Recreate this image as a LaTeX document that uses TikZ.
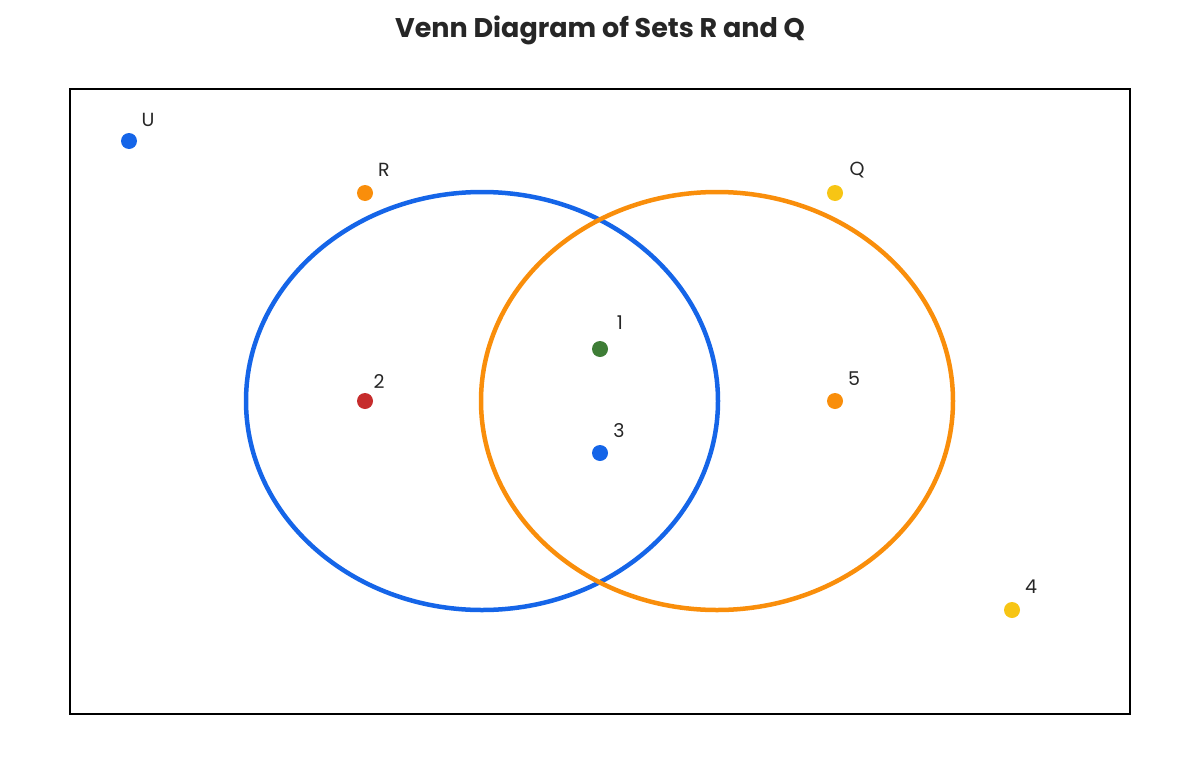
\documentclass[tikz,border=0pt]{standalone}
\usepackage{fontspec}
\setmainfont{Poppins}
\definecolor{cblue}{HTML}{1565E8}
\definecolor{corange}{HTML}{F98E0B}
\definecolor{cyellow}{HTML}{F7C514}
\definecolor{cgreen}{HTML}{3E7D36}
\definecolor{cred}{HTML}{C62C2C}
\begin{document}
\begin{tikzpicture}[x=1pt,y=-1pt,
  dot/.style={circle,inner sep=0pt,minimum size=16pt},
  lbl/.style={font=\fontsize{19}{22}\selectfont,text=black!85}]
\useasboundingbox (0,0) rectangle (1200,763);
\node[font=\bfseries\fontsize{27}{30}\selectfont,text=black!85] (title) at (600,30) {Venn Diagram of Sets R and Q};
\draw[line width=2pt] (70,89) rectangle (1130,714);
\draw[cblue,line width=4.5pt] (482,401) ellipse[x radius=236,y radius=209];
\draw[corange,line width=4.5pt] (717,401) ellipse[x radius=236,y radius=209];
\node[dot,fill=cblue] (u) at (129,141) {}; \node[lbl] (ul) at (148,120) {U};
\node[dot,fill=corange] (r) at (365,193) {}; \node[lbl] (rl) at (384,170) {R};
\node[dot,fill=cyellow] (q) at (835,193) {}; \node[lbl] (ql) at (857,170) {Q};
\node[dot,fill=cgreen] (d1) at (600,349) {}; \node[lbl] (l1) at (620,323) {1};
\node[dot,fill=cred] (d2) at (365,401) {}; \node[lbl] (l2) at (379,382) {2};
\node[dot,fill=cblue] (d3) at (600,453) {}; \node[lbl] (l3) at (619,431) {3};
\node[dot,fill=corange] (d5) at (835,401) {}; \node[lbl] (l5) at (854,379) {5};
\node[dot,fill=cyellow] (d4) at (1012,610) {}; \node[lbl] (l4) at (1031,587) {4};
\end{tikzpicture}
\end{document}
